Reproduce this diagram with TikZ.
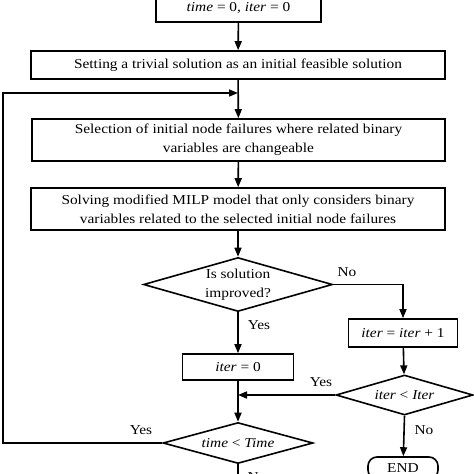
\documentclass[tikz,border=0pt]{standalone}
\usepackage{fontspec}
\setmainfont{Liberation Serif}[FakeStretch=1.13]
\usetikzlibrary{shapes.geometric,arrows.meta}

\tikzset{
    box/.style={draw, rectangle, line width=1.6pt, inner sep=2pt, align=center,
        font=\fontsize{13.6}{19}\selectfont},
    choice/.style={draw, diamond, line width=1.6pt, inner sep=-15pt, align=center,
        font=\fontsize{13.6}{19}\selectfont},
    finish/.style={draw, rectangle, rounded corners=9pt, line width=1.6pt,
        font=\fontsize{13.6}{19}\selectfont},
    flow/.style={-{Triangle[length=9pt,width=7pt]}, line width=1.6pt},
    tag/.style={font=\fontsize{13.6}{19}\selectfont}
}

\begin{document}
\begin{tikzpicture}[x=1pt, y=-1pt]
    \useasboundingbox (0,0) rectangle (474,474);
    \clip (0,0) rectangle (474,474);

    \node[box, minimum width=165pt, minimum height=28pt] (init) at (238.5,8) {\textit{time} = 0, \textit{iter} = 0};
    \node[box, minimum width=414pt, minimum height=28pt] (trivial) at (238,65) {Setting a trivial solution as an initial feasible solution};
    \node[box, minimum width=413pt, minimum height=42pt] (select) at (238.5,140) {Selection of initial node failures where related binary\\variables are changeable};
    \node[box, minimum width=414pt, minimum height=42pt] (solve) at (238,209) {Solving modified MILP model that only considers binary\\variables related to the selected initial node failures};

    \node[choice, minimum width=189pt, minimum height=54pt] (improved) at (238,284.5) {Is solution\\improved?};
    \node[box, minimum width=111pt, minimum height=26pt] (reset) at (238,367) {\textit{iter} = 0};
    \node[choice, minimum width=150pt, minimum height=41pt] (again) at (238,443) {\textit{time} < \textit{Time}};

    \node[box, minimum width=109pt, minimum height=28pt] (inc) at (403,333) {\textit{iter} = \textit{iter} + 1};
    \node[choice, minimum width=137pt, minimum height=40pt] (more) at (404.5,395) {\textit{iter} < \textit{Iter}};
    \node[finish, minimum width=70pt, minimum height=22pt] (stop) at (403,468) {END};

    \coordinate (join) at (238,93);
    \coordinate (merge) at (238,395);
    \coordinate (back) at (3,443);
    \coordinate (out) at (238,490);

    \draw[flow] (init) -- (trivial);
    \draw[flow] (trivial) -- (select);
    \draw[flow] (select) -- (solve);
    \draw[flow] (solve) -- (improved);
    \draw[flow] (improved.east) -| (inc.north);
    \draw[flow] (improved.south) -- (reset.north);
    \draw[flow] (inc) -- (more);
    \draw[flow] (more.west) -- (merge);
    \draw[flow] (reset) -- (again);
    \draw[flow] (more.south) -- (stop);
    \draw[flow] (again.west) -- (back) |- (join);
    \draw[line width=1.6pt] (again.south) -- (out);

    \node[tag] (no1) at (347,272) {No};
    \node[tag] (yes1) at (259,325) {Yes};
    \node[tag] (yes2) at (321,382) {Yes};
    \node[tag] (no2) at (424,430) {No};
    \node[tag] (yes3) at (141,430) {Yes};
    \node[tag] (no3) at (257,477) {No};
\end{tikzpicture}
\end{document}
